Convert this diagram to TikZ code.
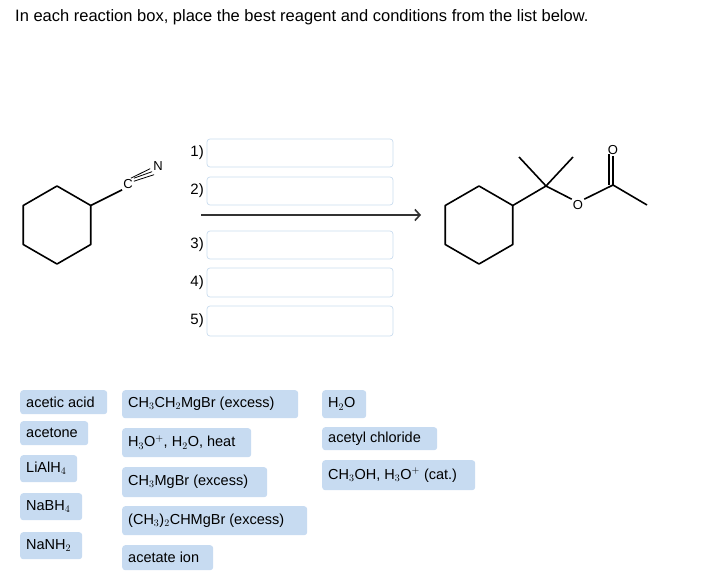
\documentclass[tikz,border=0pt]{standalone}
\usepackage{fontspec}
\setmainfont{Liberation Sans}
\usetikzlibrary{arrows.meta}
\begin{document}
\begin{tikzpicture}[x=1pt,y=-1pt,
  chipst/.style={fill=chipblue,rounded corners=3pt,inner sep=0pt,font=\fontsize{14.5}{16}\selectfont},
  boxst/.style={draw=boxline,rounded corners=3pt,line width=0.7pt},
  bond/.style={line width=1.6pt,line join=round},
  lbl/.style={font=\fontsize{15}{17}\selectfont,anchor=east,inner sep=0pt}]
\definecolor{chipblue}{HTML}{C7DBF1}
\definecolor{boxline}{HTML}{C9DCEE}
\useasboundingbox (0,0) rectangle (711,583);
\node[anchor=north west,inner sep=0pt,font=\fontsize{16.5}{18}\selectfont] (title) at (15,9) {In each reaction box, place the best reagent and conditions from the list below.};
% left molecule
\foreach \i in {0,...,5} {\coordinate (L\i) at ({57+39*cos(90+60*\i)},{225-39*sin(90+60*\i)});}
\draw[bond] (L0)--(L1)--(L2)--(L3)--(L4)--(L5)--cycle;
\node[font=\fontsize{13}{14}\selectfont,inner sep=1pt] (C) at (128,184) {C};
\node[font=\fontsize{13}{14}\selectfont,inner sep=1pt] (N) at (158,166) {N};
\draw[bond] (L5)--(C.south west);
\draw[line width=0.8pt] (C.north east)--(N.south west);
\draw[line width=0.8pt] ([yshift=-3pt]C.north east)--([yshift=-3pt,xshift=2pt]N.south west);
\draw[line width=0.8pt] ([xshift=-3pt]C.north east)--([xshift=-2pt,yshift=3pt]N.south west);
% boxes
\foreach \n/\ya/\yb in {1/139/167,2/177/205,3/231/259,4/268/297,5/306/336} {
  \draw[boxst] (207,\ya) rectangle (393,\yb);
  \node[lbl] (n\n) at (204,{(\ya+\yb)/2}) {\n)};
}
\coordinate (as) at (201,215); \coordinate (ae) at (421,215);
\draw[line width=1.6pt,draw=black!80,-{Straight Barb[length=5pt,width=11pt]}] (as)--(ae);
% right molecule
\foreach \i in {0,...,5} {\coordinate (R\i) at ({479+39*cos(90+60*\i)},{225-39*sin(90+60*\i)});}
\draw[bond] (R0)--(R1)--(R2)--(R3)--(R4)--(R5)--cycle;
\coordinate (Q) at (546,186);
\coordinate (M1) at (519,157); \coordinate (M2) at (573,157);
\node[font=\fontsize{13}{14}\selectfont,inner sep=1pt] (O1) at (578,205) {O};
\coordinate (K) at (613,185);
\node[font=\fontsize{13}{14}\selectfont,inner sep=1pt] (O2) at (613,150) {O};
\coordinate (M3) at (647,205);
\draw[bond] (R5)--(Q)--(M1); \draw[bond] (Q)--(M2);
\draw[bond] (Q)--(O1.north west);
\draw[bond] (O1.north east)--(K)--(M3);
\draw[bond] (K)--(O2.south);
\draw[bond] ([xshift=-4pt]K)--([xshift=-4pt,yshift=2pt]O2.south);
% chips
\newcommand{\chip}[6]{\node[chipst,minimum width=#4-#2,minimum height=#5-#3,anchor=north west] (#1) at (#2,#3) {}; \node[anchor=west,inner sep=0pt,font=\fontsize{14.5}{16}\selectfont] (#1t) at (#2+6,{(#3+#5)/2}) {#6};}
\chip{c1}{20}{390}{107}{414}{acetic acid}
\chip{c2}{20}{421}{88}{445}{acetone}
\chip{c3}{20}{455}{77}{482}{LiAlH$_4$}
\chip{c4}{20}{493}{82}{520}{NaBH$_4$}
\chip{c5}{20}{532}{82}{559}{NaNH$_2$}
\chip{c6}{122}{390}{298}{418}{CH$_3$CH$_2$MgBr (excess)}
\chip{c7}{122}{428}{251}{457}{H$_3$O$^+$, H$_2$O, heat}
\chip{c8}{122}{467}{267}{497}{CH$_3$MgBr (excess)}
\chip{c9}{122}{506}{307}{535}{(CH$_3$)$_2$CHMgBr (excess)}
\chip{c10}{122}{545}{213}{570}{acetate ion}
\chip{c11}{322}{390}{366}{418}{H$_2$O}
\chip{c12}{322}{427}{437}{450}{acetyl chloride}
\chip{c13}{322}{460}{475}{490}{CH$_3$OH, H$_3$O$^+$ (cat.)}
\end{tikzpicture}
\end{document}
